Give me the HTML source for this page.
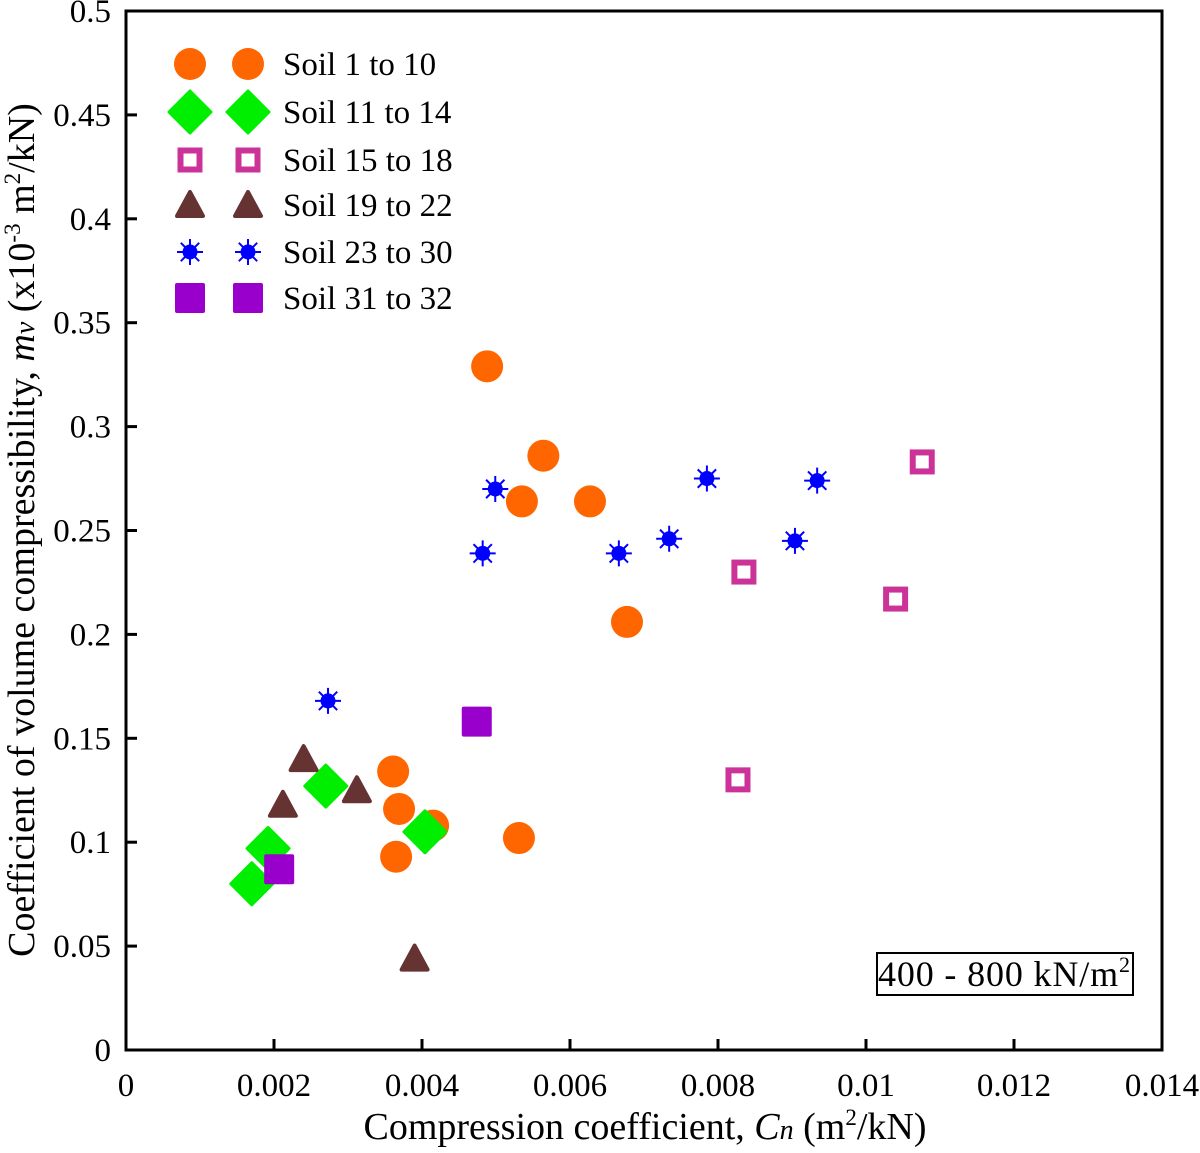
<!DOCTYPE html>
<html><head><meta charset="utf-8"><style>
body{margin:0;background:#fff}
svg text{font-family:"Liberation Serif",serif;fill:#000}
</style></head><body>
<svg id="c" width="1200" height="1148" viewBox="0 0 1200 1148" xmlns="http://www.w3.org/2000/svg"></svg>
<script>
const xTicks=[0,0.002,0.004,0.006,0.008,0.01,0.012,0.014];
const xTickLabels=["0","0.002","0.004","0.006","0.008","0.01","0.012","0.014"];
const yTicks=[0,0.05,0.1,0.15,0.2,0.25,0.3,0.35,0.4,0.45,0.5];
const yTickLabels=["0","0.05","0.1","0.15","0.2","0.25","0.3","0.35","0.4","0.45","0.5"];
const s1x=[0.00488,0.00564,0.00535,0.00627,0.00677,0.00361,0.00369,0.00415,0.00365,0.00531];
const s1y=[0.329,0.286,0.264,0.264,0.206,0.134,0.116,0.108,0.093,0.102];
const s2x=[0.0027,0.00192,0.0017,0.00404];
const s2y=[0.127,0.097,0.080,0.105];
const s3x=[0.01076,0.00835,0.0104,0.00827];
const s3y=[0.283,0.230,0.217,0.130];
const s4x=[0.0024,0.00212,0.00312,0.0039];
const s4y=[0.140,0.118,0.125,0.044];
const s5x=[0.00499,0.00482,0.00666,0.00734,0.00785,0.00904,0.00934,0.00273];
const s5y=[0.270,0.239,0.239,0.246,0.275,0.245,0.274,0.168];
const s6x=[0.00474,0.00207];
const s6y=[0.158,0.087];
const seriesNames=["Soil 1 to 10","Soil 11 to 14","Soil 15 to 18","Soil 19 to 22","Soil 23 to 30","Soil 31 to 32"];

const L=126,R=1162,T=11,B=1050;
const X=v=>L+v/0.014*(R-L);
const Y=v=>B-v/0.5*(B-T);
const svg=document.getElementById('c');
const NS="http://www.w3.org/2000/svg";
function mk(tag,a,p){const e=document.createElementNS(NS,tag);for(const k in a)e.setAttribute(k,a[k]);(p||svg).appendChild(e);return e;}

function marker(type,cx,cy,g){
  if(type===0){mk('circle',{cx:cx,cy:cy,r:16,fill:'#ff6600'},g);}
  else if(type===1){mk('path',{d:`M${cx} ${cy-21}L${cx+21} ${cy}L${cx} ${cy+21}L${cx-21} ${cy}Z`,fill:'#00ee00',stroke:'#00ee00','stroke-width':3,'stroke-linejoin':'round'},g);}
  else if(type===2){mk('rect',{x:cx-9.5,y:cy-9.5,width:19,height:19,fill:'#fff',stroke:'#cc3399','stroke-width':6},g);}
  else if(type===3){mk('path',{d:`M${cx} ${cy-13}L${cx+13} ${cy+11}L${cx-13} ${cy+11}Z`,fill:'#663333',stroke:'#663333','stroke-width':4,'stroke-linejoin':'round'},g);}
  else if(type===4){let d='';for(let i=0;i<8;i++){const a=i*Math.PI/4;d+=`M${cx} ${cy}L${cx+13*Math.cos(a)} ${cy+13*Math.sin(a)}`;}
    mk('path',{d:d,stroke:'#0000ff','stroke-width':2},g);mk('circle',{cx:cx,cy:cy,r:7.5,fill:'#0000ff'},g);}
  else {mk('rect',{x:cx-15,y:cy-15,width:30,height:30,rx:2,fill:'#9900cc'},g);}
}

const frame=mk('rect',{x:L,y:T,width:R-L,height:B-T,fill:'none',stroke:'#000','stroke-width':3});



xTicks.forEach((v,i)=>{
  const t=mk('line',{x1:X(v),x2:X(v),y1:B,y2:B-11,stroke:'#000','stroke-width':3});
  
  
  const l=mk('text',{x:X(v),y:1096,'text-anchor':'middle','font-size':33});
  l.textContent=xTickLabels[i];
  
  
});
yTicks.forEach((v,i)=>{
  const t=mk('line',{x1:L,x2:L+11,y1:Y(v),y2:Y(v),stroke:'#000','stroke-width':3});
  
  
  const l=mk('text',{x:111,y:Y(v)+11,'text-anchor':'end','font-size':33});
  l.textContent=yTickLabels[i];
  
  
});

const xs=[s1x,s2x,s3x,s4x,s5x,s6x], ys=[s1y,s2y,s3y,s4y,s5y,s6y];
xs.forEach((arr,s)=>{
  const g=mk('g',{});
  
  
  arr.forEach((v,i)=>marker(s,X(v),Y(ys[s][i]),g));
});

const legY=[64,112,160,205,252,298];
seriesNames.forEach((n,i)=>{
  const g=mk('g',{});
  
  
  marker(i,190,legY[i],g);marker(i,248,legY[i],g);
  const t=mk('text',{x:283,y:legY[i]+11,'font-size':33},g);
  t.textContent=n;
});

const ab=mk('rect',{x:877,y:953,width:256,height:42,fill:'#fff',stroke:'#000','stroke-width':2});


const at=mk('text',{x:878,y:986,'font-size':36,textLength:252});
at.innerHTML='400 - 800 kN/m<tspan font-size="22" dy="-14">2</tspan>';



const xt=mk('text',{x:645,y:1139,'text-anchor':'middle','font-size':38});
xt.innerHTML='Compression coefficient, <tspan font-style="italic">C</tspan><tspan font-style="italic" font-size="28">n</tspan> (m<tspan font-size="23" dy="-14">2</tspan><tspan dy="14">/kN)</tspan>';


const yt=mk('text',{x:0,y:0,'text-anchor':'middle','font-size':38,transform:'translate(34,530) rotate(-90)'});
yt.innerHTML='Coefficient of volume compressibility, <tspan font-style="italic">m</tspan><tspan font-style="italic" font-size="28">v</tspan> (x10<tspan font-size="23" dy="-14">-3</tspan><tspan dy="14"> m</tspan><tspan font-size="23" dy="-14">2</tspan><tspan dy="14">/kN)</tspan>';


</script>
</body></html>
